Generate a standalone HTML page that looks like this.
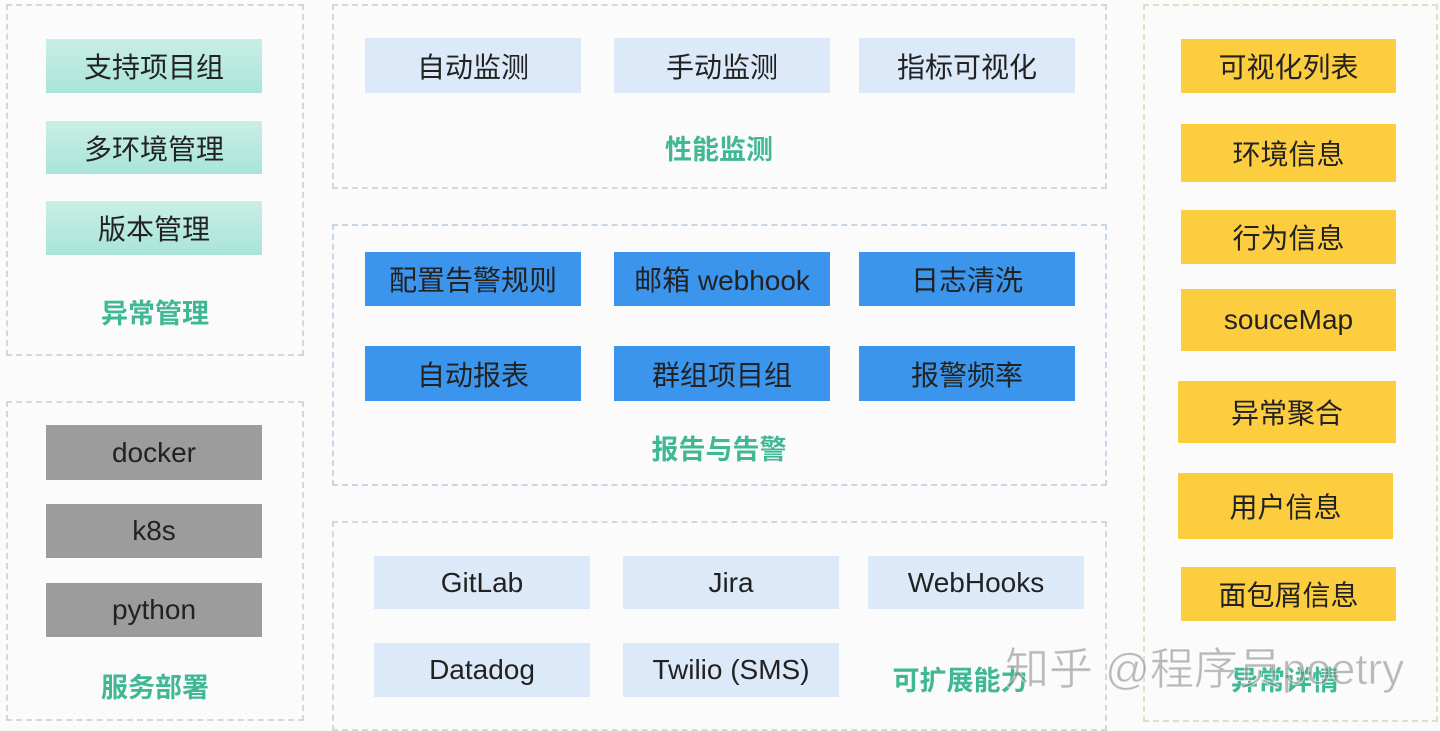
<!DOCTYPE html>
<html><head><meta charset="utf-8"><style>
body{margin:0;width:1440px;height:724px;background:#fbfbfc;position:relative;overflow:hidden;font-family:"Liberation Sans","Noto Sans CJK SC",sans-serif;}
.p{position:absolute;border:2px dashed #d4d7dc;box-sizing:border-box;}
.b{position:absolute;display:flex;align-items:center;justify-content:center;font-size:28px;color:#222;}
.g{background:linear-gradient(#c9efe6,#a9e4d8);}
.gr{background:#9c9c9c;}
.lb{background:#dce9f9;}
.db{background:#3b95ec;}
.y{background:#fccd3f;}
.t{position:absolute;font-size:27px;font-weight:bold;color:#3fb893;transform:translateX(-50%);white-space:nowrap;}
</style></head><body>
<div class="p" style="left:6px;top:4px;width:298px;height:352px"></div>
<div class="b g" style="left:46px;top:39px;width:216px;height:54px">支持项目组</div>
<div class="b g" style="left:46px;top:121px;width:216px;height:53px">多环境管理</div>
<div class="b g" style="left:46px;top:201px;width:216px;height:54px">版本管理</div>
<div class="t" style="left:155px;top:292px">异常管理</div>

<div class="p" style="left:6px;top:401px;width:298px;height:320px"></div>
<div class="b gr" style="left:46px;top:425px;width:216px;height:55px">docker</div>
<div class="b gr" style="left:46px;top:504px;width:216px;height:54px">k8s</div>
<div class="b gr" style="left:46px;top:583px;width:216px;height:54px">python</div>
<div class="t" style="left:155px;top:666px">服务部署</div>

<div class="p" style="left:332px;top:4px;width:775px;height:185px"></div>
<div class="b lb" style="left:365px;top:38px;width:216px;height:55px">自动监测</div>
<div class="b lb" style="left:614px;top:38px;width:216px;height:55px">手动监测</div>
<div class="b lb" style="left:859px;top:38px;width:216px;height:55px">指标可视化</div>
<div class="t" style="left:719px;top:128px">性能监测</div>

<div class="p" style="left:332px;top:224px;width:775px;height:262px;border-color:#c9d6e8"></div>
<div class="b db" style="left:365px;top:252px;width:216px;height:54px">配置告警规则</div>
<div class="b db" style="left:614px;top:252px;width:216px;height:54px">邮箱 webhook</div>
<div class="b db" style="left:859px;top:252px;width:216px;height:54px">日志清洗</div>
<div class="b db" style="left:365px;top:346px;width:216px;height:55px">自动报表</div>
<div class="b db" style="left:614px;top:346px;width:216px;height:55px">群组项目组</div>
<div class="b db" style="left:859px;top:346px;width:216px;height:55px">报警频率</div>
<div class="t" style="left:719px;top:428px">报告与告警</div>

<div class="p" style="left:332px;top:521px;width:775px;height:210px"></div>
<div class="b lb" style="left:374px;top:556px;width:216px;height:53px">GitLab</div>
<div class="b lb" style="left:623px;top:556px;width:216px;height:53px">Jira</div>
<div class="b lb" style="left:868px;top:556px;width:216px;height:53px">WebHooks</div>
<div class="b lb" style="left:374px;top:643px;width:216px;height:54px">Datadog</div>
<div class="b lb" style="left:623px;top:643px;width:216px;height:54px">Twilio (SMS)</div>
<div class="t" style="left:960px;top:659px">可扩展能力</div>

<div class="p" style="left:1143px;top:4px;width:295px;height:718px;border-color:#e6dcc0"></div>
<div class="b y" style="left:1181px;top:39px;width:215px;height:54px">可视化列表</div>
<div class="b y" style="left:1181px;top:124px;width:215px;height:58px">环境信息</div>
<div class="b y" style="left:1181px;top:210px;width:215px;height:54px">行为信息</div>
<div class="b y" style="left:1181px;top:289px;width:215px;height:62px">souceMap</div>
<div class="b y" style="left:1178px;top:381px;width:218px;height:62px">异常聚合</div>
<div class="b y" style="left:1178px;top:473px;width:215px;height:66px">用户信息</div>
<div class="b y" style="left:1181px;top:567px;width:215px;height:54px">面包屑信息</div>
<div class="t" style="left:1285px;top:659px">异常详情</div>

<div style="position:absolute;left:1005px;top:633px;font-size:44px;color:rgba(130,130,130,0.55);white-space:nowrap;-webkit-text-stroke:1px rgba(255,255,255,0.6)">知乎 @程序员poetry</div>
</body></html>
